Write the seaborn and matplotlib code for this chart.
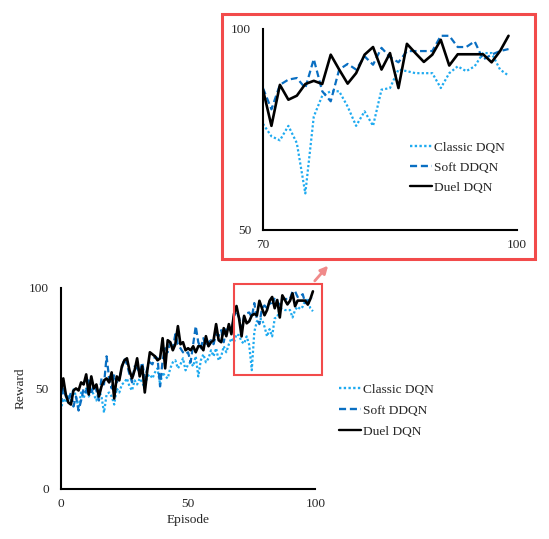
import pandas as pd
import numpy as np
import matplotlib
matplotlib.use("Agg")
import matplotlib.pyplot as plt
import matplotlib.patches as patches
import seaborn as sns

# reward per episode (episodes 0-69 from the main plot, 70-99 from the zoom)
classic_early = [39, 45, 43, 47, 44, 50, 46, 40, 48, 45, 50, 46, 49, 47, 44, 49, 46, 38, 47, 48,
                 46, 42, 50, 48, 52, 53, 55, 51, 49, 54, 52, 55, 53, 50, 56, 57, 55, 58, 60, 52,
                 58, 56, 55, 60, 63, 64, 60, 62, 65, 59, 62, 63, 61, 66, 56, 64, 67, 63, 65, 69,
                 66, 70, 64, 66, 71, 68, 72, 75, 73, 77]
classic_late = [76.4, 73.3, 72.3, 75.9, 71.6, 59.1, 78.2, 83.4, 84.5, 84.5, 80.7, 75.9, 79.5, 75.9, 84.9,
                85.3, 89.9, 89.5, 89.0, 89.0, 89.0, 85.3, 89.0, 90.7, 89.5, 90.7, 94.0, 94.0, 89.9, 88.4]

soft_early = [42, 50, 46, 44, 48, 41, 46, 39, 44, 50, 48, 54, 47, 52, 49, 44, 55, 52, 66, 55,
              50, 57, 53, 55, 60, 65, 62, 57, 53, 61, 60, 58, 63, 55, 60, 63, 62, 66, 65, 51,
              64, 70, 68, 73, 70, 77, 72, 70, 68, 67, 68, 63, 72, 81, 73, 70, 75, 71, 73, 74,
              72, 77, 76, 79, 73, 80, 81, 78, 86, 88]
soft_late = [85.3, 80.0, 86.1, 87.4, 87.8, 85.3, 92.5, 84.5, 82.0, 89.9, 91.3, 89.9, 93.2, 91.1, 95.3,
             93.0, 91.7, 94.5, 94.5, 94.5, 94.5, 98.3, 98.3, 95.5, 95.5, 96.9, 92.4, 93.6, 94.5, 95.0]

duel_early = [48, 55, 47, 43, 42, 49, 50, 49, 53, 52, 57, 47, 56, 50, 52, 46, 51, 54, 55, 53,
              58, 45, 56, 54, 61, 64, 65, 59, 55, 59, 65, 56, 61, 48, 59, 68, 67, 66, 64, 65,
              75, 60, 74, 73, 69, 72, 81, 72, 73, 69, 70, 69, 71, 68, 71, 71, 69, 76, 71, 73,
              74, 82, 74, 73, 80, 76, 82, 77, 87, 91]
duel_late = [84.9, 75.9, 86.1, 82.4, 83.4, 86.3, 87.1, 86.3, 93.6, 89.9, 86.4, 89.0, 93.6, 95.5, 89.9,
             94.0, 85.3, 96.3, 94.0, 91.8, 93.6, 97.3, 90.9, 93.7, 93.7, 93.7, 93.7, 91.7, 94.5, 98.3]

agents = ["Classic DQN", "Soft DDQN", "Duel DQN"]
series = [classic_early + classic_late, soft_early + soft_late, duel_early + duel_late]

frames = []
for name, vals in zip(agents, series):
    frames.append(pd.DataFrame({"episode": np.arange(len(vals)), "reward": vals, "agent": name}))
df = pd.concat(frames, ignore_index=True)
zoom_df = df[df["episode"] >= 70]

sns.set_style("white")
plt.rcParams["font.family"] = ["Liberation Serif", "DejaVu Serif"]
plt.rcParams["font.size"] = 9.6

palette = {"Classic DQN": "#1eaaf0", "Soft DDQN": "#0a6fc2", "Duel DQN": "#000000"}
dashes = {"Classic DQN": (1, 1), "Soft DDQN": (3, 1.6), "Duel DQN": ""}

fig = plt.figure(figsize=(5.49, 5.39), dpi=100)
ax = fig.add_axes([0.1106, 0.0928, 0.464, 0.373])
ax_in = fig.add_axes([0.479, 0.5733, 0.4627, 0.373])

for a, d in [(ax, df), (ax_in, zoom_df)]:
    sns.lineplot(data=d, x="episode", y="reward", hue="agent", style="agent",
                 hue_order=agents, style_order=agents, palette=palette, dashes=dashes,
                 estimator=None, errorbar=None, linewidth=1.6, ax=a)
    # the black line is a bit heavier in the original
    a.lines[2].set_linewidth(1.9)
    sns.despine(ax=a)
    for s in ["left", "bottom"]:
        a.spines[s].set_color("black")
        a.spines[s].set_linewidth(1.5)
    a.tick_params(length=0, labelsize=9.6)
    a.tick_params(axis="y", pad=8.5)
    a.tick_params(axis="x", pad=6.5)
    a.set_facecolor("none")

handles, labels = ax.get_legend_handles_labels()
for h in handles:
    h.set_linewidth(1.7)

ax.set_xlim(0, 100)
ax.set_ylim(0, 100)
ax.set_xticks([0, 50, 100])
ax.set_yticks([0, 50, 100])
ax.set_xlabel("Episode", fontsize=9.6)
ax.set_ylabel("Reward", fontsize=9.6)
ax.xaxis.set_label_coords(0.5, -0.125)
ax.yaxis.set_label_coords(-0.135, 0.5)
ax.get_legend().remove()
ax.legend(handles, labels, loc="upper left", bbox_to_anchor=(0.617, 0.289),
          bbox_transform=fig.transFigure, frameon=False, fontsize=9.6,
          handlelength=1.7, handletextpad=0.1, labelspacing=0.65, borderpad=0, borderaxespad=0)

ax_in.set_xlim(70, 100)
ax_in.set_ylim(50, 100)
ax_in.set_xticks([70, 100])
ax_in.set_yticks([50, 100])
ax_in.set_xlabel("")
ax_in.set_ylabel("")
ax_in.get_legend().remove()
ax_in.legend(handles, labels, loc="upper left", bbox_to_anchor=(0.746, 0.738),
             bbox_transform=fig.transFigure, frameon=False, fontsize=9.6,
             handlelength=1.7, handletextpad=0.1, labelspacing=0.58, borderpad=0, borderaxespad=0)

red = "#f24b4b"
# zoom box on the main plot
ax.add_patch(patches.Rectangle((68, 56.7), 34.5, 45.3, fill=False, edgecolor=red,
                               linewidth=1.5, clip_on=False, zorder=5))
# frame around the zoom panel
fig.patches.append(patches.Rectangle((0.4035, 0.5204), 0.571, 0.4527, fill=False,
                                     edgecolor=red, linewidth=2.2,
                                     transform=fig.transFigure, figure=fig))
ax.annotate("", xy=(0.601, 0.511), xycoords="figure fraction",
            xytext=(0.570, 0.475), textcoords="figure fraction",
            arrowprops=dict(arrowstyle="-|>", color="#f08a8a", lw=2, mutation_scale=11))

fig.savefig("out.png", dpi=100)
